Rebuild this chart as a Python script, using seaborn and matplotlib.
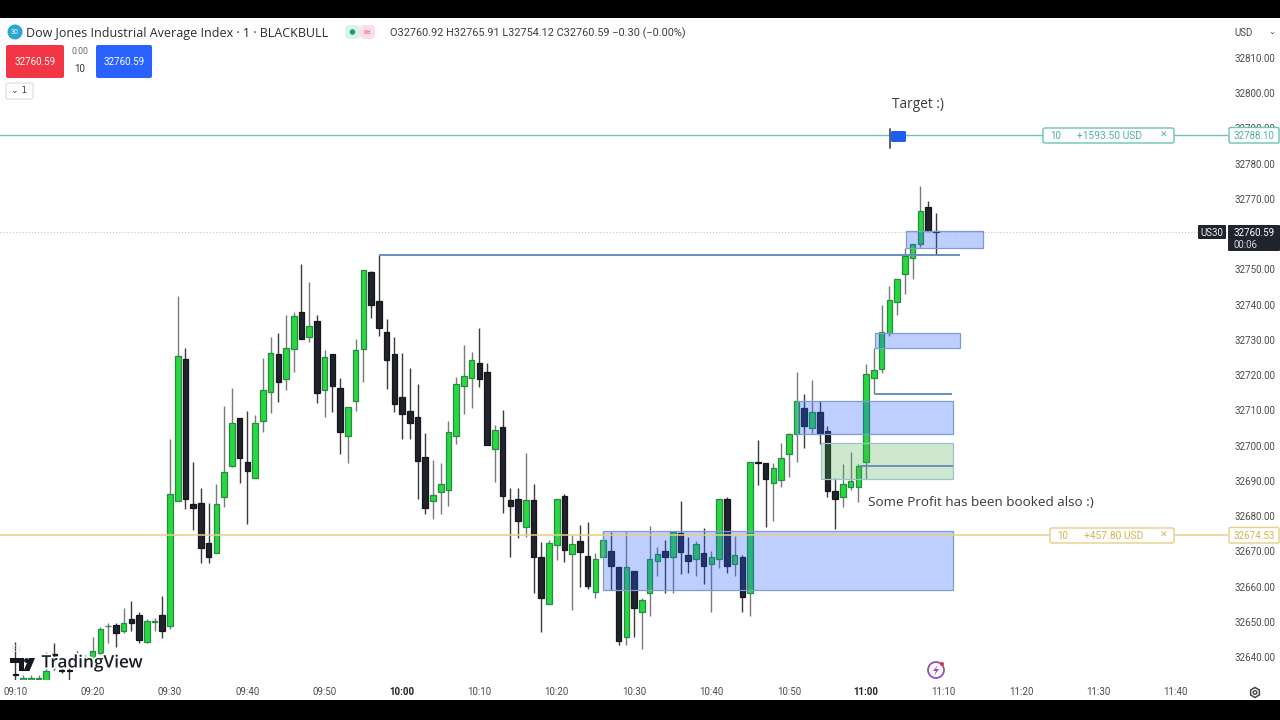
import numpy as np
import pandas as pd
import seaborn as sns
import matplotlib
matplotlib.use("Agg")
import matplotlib.pyplot as plt
import matplotlib.patheffects as pe
from matplotlib.patches import Rectangle, FancyBboxPatch, Polygon, Circle, RegularPolygon

# One-minute US30 candles starting at 09:10
open_prices = [32635.2,32630.0,32633.6,32633.8,32631.0,32641.0,32636.3,32636.3,32640.3,32639.6,
 32639.2,32641.2,32648.7,32649.1,32647.4,32650.8,32651.9,32644.2,32650.0,32651.9,
 32648.8,32684.4,32724.5,32683.4,32683.8,32672.5,32669.4,32685.3,32694.3,32707.9,
 32695.4,32690.7,32707.0,32715.2,32725.9,32718.9,32727.4,32737.8,32730.8,32735.5,
 32715.8,32725.9,32716.4,32702.7,32712.8,32727.5,32749.4,32741.0,32732.3,32725.9,
 32713.9,32709.8,32708.2,32696.9,32684.4,32686.8,32687.3,32702.7,32716.9,32719.3,
 32723.5,32720.8,32699.0,32705.4,32684.6,32684.8,32677.0,32684.6,32668.5,32655.2,
 32671.8,32685.7,32669.2,32672.9,32668.7,32658.5,32668.3,32670.2,32665.6,32645.6,
 32664.5,32652.7,32658.1,32667.3,32670.2,32668.3,32675.3,32669.0,32667.8,32669.6,
 32666.3,32667.8,32685.0,32666.3,32668.5,32658.1,32695.3,32695.2,32689.3,32690.2,
 32697.6,32703.4,32710.6,32704.9,32709.6,32704.2,32687.1,32685.5,32688.2,32688.2,
 32695.3,32719.2,32721.8,32731.9,32740.9,32748.6,32753.3,32757.2,32767.6,32760.92]
high_prices = [32644.4,32635.0,32635.0,32635.0,32641.5,32643.9,32638.2,32640.1,32641.8,32640.6,
 32645.8,32648.5,32649.6,32649.6,32653.8,32655.9,32652.9,32650.8,32651.0,32657.4,
 32701.9,32742.5,32727.6,32695.4,32687.9,32683.8,32689.0,32711.3,32716.4,32707.9,
 32709.9,32708.7,32725.0,32730.9,32731.9,32737.1,32738.0,32751.5,32746.5,32737.0,
 32727.0,32725.9,32719.1,32711.0,32730.4,32749.8,32749.6,32754.1,32735.9,32730.9,
 32726.4,32721.9,32717.4,32703.5,32695.9,32695.0,32707.0,32719.4,32728.5,32726.5,
 32733.3,32723.5,32706.0,32710.1,32687.9,32687.9,32697.8,32689.0,32672.7,32673.2,
 32685.0,32686.3,32674.6,32677.5,32678.4,32669.6,32675.6,32675.4,32665.6,32675.6,
 32664.5,32656.9,32677.3,32671.3,32673.2,32675.5,32684.4,32674.0,32672.9,32676.7,
 32670.2,32685.0,32685.3,32674.4,32669.0,32695.4,32701.6,32695.2,32695.0,32700.8,
 32703.7,32721.0,32714.6,32718.6,32712.8,32705.7,32690.7,32694.7,32698.1,32694.8,
 32723.2,32727.6,32739.8,32745.4,32747.4,32756.0,32757.2,32773.7,32769.5,32765.91]
low_prices = [32630.0,32629.0,32632.0,32632.0,32630.0,32636.3,32635.4,32633.3,32639.2,32638.7,
 32639.0,32641.0,32643.9,32642.9,32646.9,32647.5,32643.9,32643.9,32647.5,32645.3,
 32648.1,32684.4,32682.1,32676.0,32666.6,32666.6,32669.4,32682.5,32694.0,32689.5,
 32677.9,32690.7,32704.0,32709.4,32712.5,32715.8,32720.8,32730.2,32729.5,32712.0,
 32708.2,32709.6,32697.5,32695.0,32709.9,32718.1,32736.1,32731.1,32716.1,32709.6,
 32702.0,32702.0,32685.0,32680.6,32679.1,32680.6,32683.0,32700.5,32709.0,32710.6,
 32716.7,32700.2,32689.8,32680.8,32668.3,32673.7,32674.1,32658.1,32647.0,32655.2,
 32667.5,32666.9,32653.5,32660.0,32659.2,32656.9,32668.3,32659.0,32643.3,32643.3,
 32645.6,32642.3,32651.7,32663.1,32658.1,32658.1,32663.5,32663.8,32663.1,32660.6,
 32652.7,32665.2,32664.0,32663.1,32652.9,32651.7,32688.8,32677.0,32678.6,32688.4,
 32691.2,32695.3,32699.4,32703.5,32700.6,32685.3,32676.3,32682.5,32687.4,32683.9,
 32690.5,32714.6,32720.5,32731.1,32737.1,32742.9,32747.2,32756.3,32760.9,32754.12]
close_prices = [32635.0,32634.2,32634.0,32634.0,32636.0,32640.3,32636.0,32636.0,32640.1,32639.8,
 32641.8,32648.1,32648.9,32646.7,32649.6,32649.8,32644.8,32650.3,32650.2,32647.4,
 32686.3,32725.4,32684.8,32682.3,32670.9,32668.3,32683.4,32692.4,32706.5,32696.4,
 32692.9,32706.5,32715.8,32726.4,32718.0,32727.8,32736.9,32730.4,32733.9,32714.9,
 32725.2,32716.9,32703.9,32711.0,32727.0,32749.8,32740.0,32733.3,32724.3,32711.8,
 32708.9,32706.4,32695.7,32682.3,32686.0,32689.0,32703.9,32717.4,32719.9,32724.4,
 32719.0,32700.2,32704.4,32685.6,32682.9,32678.6,32684.6,32668.3,32656.7,32672.5,
 32685.0,32670.4,32672.0,32669.8,32660.2,32667.7,32673.2,32665.8,32644.6,32665.5,
 32653.9,32656.2,32667.8,32669.2,32668.3,32675.5,32669.7,32667.3,32672.1,32665.8,
 32668.3,32685.0,32665.8,32669.0,32657.1,32695.4,32695.1,32690.5,32693.7,32696.6,
 32703.4,32712.8,32705.5,32709.6,32703.7,32687.2,32684.9,32689.1,32690.1,32694.3,
 32720.2,32721.5,32732.3,32741.4,32747.4,32753.9,32757.2,32766.7,32760.9,32760.59]

time_labels = ["09:10","09:20","09:30","09:40","09:50","10:00","10:10","10:20",
               "10:30","10:40","10:50","11:00","11:10","11:20","11:30","11:40"]
bold_times = ["10:00","11:00"]
price_ticks = [32640,32650,32660,32670,32680,32690,32700,32710,32720,32730,
               32740,32750,32760,32770,32780,32790,32800,32810]

# Drawn zones: first/last minute, upper and lower price
blue_zones = [(76.0,121.2,32675.7,32659.0),(101.0,121.2,32712.8,32703.4),
              (111.2,122.1,32731.9,32727.7),(115.1,125.1,32760.8,32756.0)]
green_zones = [(104.2,121.2,32700.8,32690.6)]
level_lines = [(47.0,122.1,32754.1),(111.2,121.1,32714.6),(109.2,121.2,32694.3)]
target_price = 32788.10
entry_price = 32674.53
last_price = 32760.59

WICK_UP, WICK_DOWN = "#7a7a7a", "#3c3c3c"
BODY_UP, EDGE_UP = "#28d83e", "#278a45"
BODY_DOWN, EDGE_DOWN = "#20222c", "#15161c"

sns.set_theme(style="white")
UI_FONT = "Open Sans"
NUM_FONT = "Roboto"
NUM_SIZE = 7.0
plt.rcParams["font.family"] = [UI_FONT, "DejaVu Sans"]

candles = pd.DataFrame({"minute": np.arange(len(open_prices)), "open": open_prices,
                        "high": high_prices, "low": low_prices, "close": close_prices})
candles["base"] = candles[["open", "close"]].min(axis=1)
candles["body"] = (candles["close"] - candles["open"]).abs().clip(lower=0.15)
rising = candles[candles["close"] >= candles["open"]]
falling = candles[candles["close"] < candles["open"]]

fig = plt.figure(figsize=(12.8, 7.2), dpi=100, facecolor="white")
ax = fig.add_axes([0, 40 / 720, 1228 / 1280, 662 / 720], facecolor="white")

# Candle bodies and wicks
for part, body, edge, wick in ((rising, BODY_UP, EDGE_UP, WICK_UP),
                               (falling, BODY_DOWN, EDGE_DOWN, WICK_DOWN)):
    ax.vlines(part["minute"], part["low"], part["high"], color=wick, lw=1.0, zorder=2)
    sns.barplot(data=part, x="minute", y="body", bottom=part["base"].to_numpy(),
                native_scale=True, errorbar=None, color=body, saturation=1,
                edgecolor=edge, linewidth=0.9, width=0.72, ax=ax, zorder=3)

x_to_min = lambda px: (px - 15.3) / 7.735
ax.set_xlim(x_to_min(0), x_to_min(1228))
ax.set_ylim(32633.5, 32821.35)

tick_minutes = np.arange(len(time_labels)) * 10
ax.set_xticks(tick_minutes)
ax.set_xticklabels(time_labels, fontsize=NUM_SIZE, color="#4a4a4a", family=NUM_FONT)
for lab in ax.get_xticklabels():
    if lab.get_text() in bold_times:
        lab.set_fontweight("bold")
        lab.set_color("#222222")
ax.yaxis.tick_right()
ax.set_yticks(price_ticks)
ax.set_yticklabels([f"{p:.2f}" for p in price_ticks], fontsize=NUM_SIZE, color="#4a4a4a", family=NUM_FONT)
ax.tick_params(axis="y", length=0, pad=4.8)
ax.tick_params(axis="x", length=0, pad=5)
ax.set_xlabel("")
ax.set_ylabel("")
sns.despine(ax=ax, left=True, bottom=True, right=True, top=True)

# Zones sit over the candles so the bodies show through
for x0, x1, top, bottom in blue_zones:
    ax.add_patch(Rectangle((x0, bottom), x1 - x0, top - bottom, fc="#2962ff", alpha=0.3, ec="none", zorder=4))
    ax.add_patch(Rectangle((x0, bottom), x1 - x0, top - bottom, fc="none", ec="#7e9dce", lw=0.9, zorder=4))
for x0, x1, top, bottom in green_zones:
    ax.add_patch(Rectangle((x0, bottom), x1 - x0, top - bottom, fc="#4caf50", alpha=0.28, ec="none", zorder=4))
    ax.add_patch(Rectangle((x0, bottom), x1 - x0, top - bottom, fc="none", ec="#9cc2d0", lw=0.9, zorder=4))
for x0, x1, level in level_lines:
    ax.plot([x0, x1], [level, level], color="#6a8fbf", lw=1.4, zorder=5, solid_capstyle="butt")

ax.axhline(target_price, color="#6cc2b7", lw=1.0, zorder=1.5)
ax.axhline(entry_price, color="#e8cf86", lw=1.1, zorder=5)
ax.axhline(last_price, color="#cfcfcf", lw=0.9, ls=(0, (1, 1.5)), zorder=1)

# Interface layer in screen pixels
ui = fig.add_axes([0, 0, 1, 1], facecolor="none", zorder=10)
ui.set_xlim(0, 1280)
ui.set_ylim(720, 0)
ui.axis("off")

ui.add_patch(Rectangle((0, 0), 1280, 18, fc="black", ec="none"))
ui.add_patch(Rectangle((0, 700), 1280, 20, fc="black", ec="none"))


def box(x0, y0, x1, y1, fc, ec="none", lw=1.0, r=2):
    ui.add_patch(FancyBboxPatch((x0 + r, y0 + r), x1 - x0 - 2 * r, y1 - y0 - 2 * r,
                                boxstyle=f"round,pad={r},rounding_size={r}", fc=fc, ec=ec, lw=lw))


def label(x, y, s, size=NUM_SIZE, color="#4a4a4a", ha="left", family=NUM_FONT, **kw):
    return ui.text(x, y, s, fontsize=size, color=color, ha=ha, va="center", family=family, **kw)


# Header
ui.add_patch(Circle((15, 32), 7.5, fc="#2aa6d6", ec="none"))
label(15, 32, "30", size=5, color="white", ha="center")
label(26, 33.2, "Dow Jones Industrial Average Index · 1 · BLACKBULL", size=9.0, color="#2b2b33", family=UI_FONT)
box(345, 25, 360, 39, "#dcf3ec", r=4)
box(360, 25, 375, 39, "#fbdde6", r=4)
ui.add_patch(Circle((352.5, 32), 2.8, fc="#14a17e", ec="none"))
label(367.5, 32, "≈", size=7, color="#e0557a", ha="center", family="DejaVu Sans")
label(390, 33, "O32760.92 H32765.91 L32754.12 C32760.59 −0.30 (−0.00%)", size=7.85, color="#3c3c44")

# Order ticket
box(6, 45, 64, 78, "#f23645", r=2)
box(96, 45, 152, 78, "#2962ff", r=2)
label(35, 62, "32760.59", color="white", ha="center")
label(124, 62, "32760.59", color="white", ha="center")
label(79.5, 51, "0.00", size=6.3, color="#6a6a6a", ha="center")
label(79.5, 68.5, "10", color="#333333", ha="center")
box(6, 83, 33, 99, "white", ec="#e2e2e2", r=2)
label(19, 90.5, "⌄ 1", size=6.5, color="#444444", ha="center", family="DejaVu Sans")

# Axis controls
label(1234, 33.5, "USD", color="#444444")
label(1272, 32, "⌄", size=6, color="#444444", ha="center", family="DejaVu Sans")

# Price tags on the scale
box(1229, 127.5, 1279, 143, "white", ec="#6cc2b7", r=1.5)
label(1254, 136, f"{target_price:.2f}", color="#4fb0a4", ha="center")
box(1229, 527.5, 1279, 543, "white", ec="#e8cf86", r=1.5)
label(1254, 536, f"{entry_price:.2f}", color="#d6b44e", ha="center")
box(1198, 225, 1226, 239, "#20242e", r=1)
label(1212, 232.5, "US30", color="#f0f0f0", ha="center")
box(1228, 225, 1280, 251, "#20242e", r=1)
label(1254, 233, f"{last_price:.2f}", color="white", ha="center")
label(1234, 244.5, "00:06", color="#d8d8d8")

# Position pills on the two lines
box(1043, 128, 1174, 143, "white", ec="#6cc2b7", r=2)
label(1050, 136, "10", color="#4fb0a4")
label(1077, 136, "+1593.50 USD", size=7.4, color="#4fb0a4")
label(1164, 135.5, "✕", size=6.5, color="#4fb0a4", ha="center", family="DejaVu Sans")
box(1050, 528, 1174, 543, "white", ec="#e8cf86", r=2)
label(1057, 536, "10", color="#d6b44e")
label(1084, 536, "+457.80 USD", size=7.4, color="#d6b44e")
label(1164, 535.5, "✕", size=6.5, color="#d6b44e", ha="center", family="DejaVu Sans")

# Target flag and notes
ui.plot([890, 890], [129, 148], color="#55606e", lw=1.4)
ui.add_patch(FancyBboxPatch((892, 132), 13, 9, boxstyle="round,pad=1,rounding_size=1.5", fc="#1f5cf0", ec="none"))
label(892, 104, "Target :)", size=9.8, color="#3a3a3a", family=UI_FONT, fontweight="medium")
label(868, 502, "Some Profit has been booked also :)", size=9.7, color="#3a3a3a", family=UI_FONT, fontweight="medium")

# Watermark
halo = [pe.withStroke(linewidth=2.5, foreground="white")]
for shape in ([(10, 658), (24, 658), (24, 671), (18.5, 671), (18.5, 663), (10, 663)],
              [(29, 658), (35, 658), (29.5, 671), (23.5, 671)]):
    ui.add_patch(Polygon(shape, fc="#131722", ec="none"))
ui.add_patch(Circle((26.5, 660.5), 2.4, fc="#131722", ec="none"))
label(41.5, 663.5, "TradingView", size=12.4, color="#1c1f28", family=UI_FONT,
      fontweight="semibold", path_effects=halo)
label(10, 649, "EN", size=6.5, color="#e4e4e4")

# Bottom icons
ui.add_patch(Circle((936, 670), 8, fc="white", ec="#9c4dbb", lw=1.3))
ui.add_patch(Polygon([(938, 665), (933, 671), (936, 671), (934, 676), (939, 669), (936, 669)], fc="#9c4dbb", ec="none"))
ui.add_patch(Circle((942, 664), 2, fc="#e0343e", ec="none"))
ui.add_patch(RegularPolygon((1255, 692.5), 6, radius=5, fc="white", ec="#444444", lw=1.1))
ui.add_patch(Circle((1255, 692.5), 1.8, fc="white", ec="#444444", lw=1.0))

fig.savefig("out.png", dpi=100)
